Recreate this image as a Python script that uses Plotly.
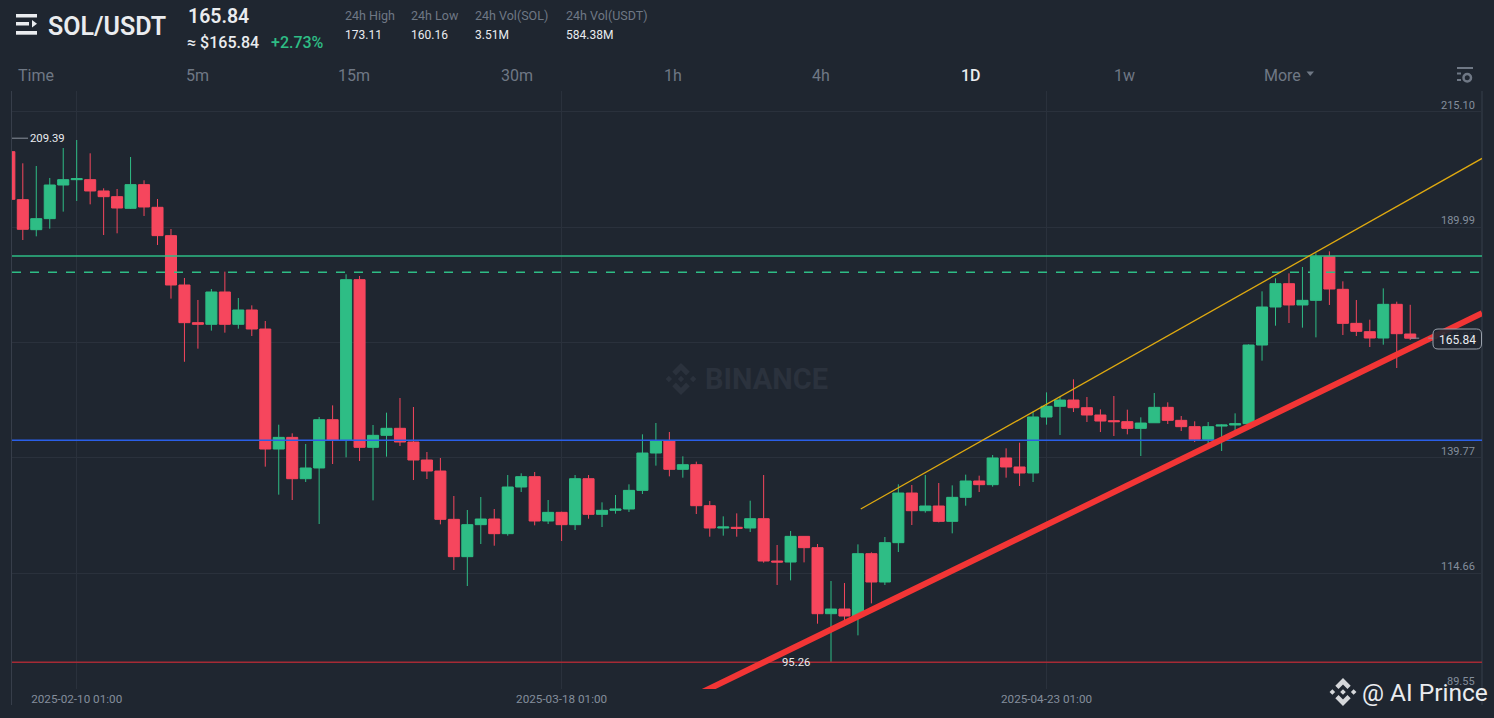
import plotly.graph_objects as go
import pandas as pd

W = 1494
H = 718
FONT = "Roboto"

# daily candles
start_day = "2025-02-05"
opens = [206.46, 196.01, 189.47, 191.87, 199.20, 200.36, 200.36, 197.90, 196.66, 194.12,
         199.28, 194.34, 188.17, 177.42, 169.22, 168.86, 175.90, 168.86, 171.98, 167.84,
         141.70, 144.24, 135.24, 137.57, 148.09, 143.59, 178.58, 142.07, 144.68, 146.21,
         143.23, 139.31, 136.91, 126.39, 118.26, 125.23, 126.46, 123.27, 133.43, 135.68,
         126.02, 127.91, 125.23, 135.24, 127.48, 128.35, 128.64, 132.70, 140.83, 143.45,
         137.28, 138.29, 129.36, 124.50, 124.65, 124.50, 126.53, 117.31, 117.09, 122.68,
         120.22, 105.84, 106.86, 105.33, 118.91, 112.74, 121.31, 132.12, 128.27, 129.29,
         125.95, 131.18, 134.74, 133.94, 139.75, 137.79, 136.48, 148.67, 151.00, 152.37,
         150.70, 149.11, 147.87, 147.66, 146.20, 147.42, 150.78, 147.95, 146.57, 143.81,
         146.70, 146.93, 147.22, 164.35, 172.63, 177.71, 173.07, 174.08, 183.59, 176.48,
         169.07, 167.26, 165.88, 173.21, 166.75]
closes = [196.08, 189.55, 191.87, 199.20, 200.36, 200.58, 197.90, 196.66, 194.19, 199.28,
          194.41, 188.17, 177.42, 169.22, 168.86, 175.90, 168.86, 171.98, 167.84, 141.70,
          144.24, 135.24, 137.57, 148.09, 143.59, 178.58, 142.07, 144.68, 146.21, 143.23,
          139.31, 136.91, 126.39, 118.26, 125.23, 126.46, 123.27, 133.43, 135.68, 126.02,
          127.91, 125.23, 135.24, 127.48, 128.35, 128.64, 132.70, 140.83, 143.45, 137.28,
          138.29, 129.36, 124.50, 124.72, 124.43, 126.53, 117.31, 117.09, 122.68, 120.22,
          105.84, 106.86, 105.33, 118.91, 112.74, 121.31, 132.12, 128.27, 129.29, 125.95,
          131.18, 134.74, 133.94, 139.75, 137.79, 136.48, 148.68, 151.00, 152.37, 150.70,
          149.11, 147.80, 147.66, 146.20, 147.36, 150.78, 147.95, 146.57, 143.81, 146.57,
          146.93, 147.22, 164.35, 172.63, 177.71, 173.07, 174.08, 183.59, 176.55, 169.07,
          167.33, 165.88, 173.21, 166.82, 165.84]
highs = [209.39, 203.92, 203.34, 200.73, 207.26, 209.00, 206.10, 198.48, 198.33, 205.30,
         200.22, 196.15, 189.62, 178.95, 174.16, 176.55, 180.33, 174.59, 172.99, 169.58,
         147.00, 145.12, 142.79, 148.67, 151.21, 179.75, 179.38, 146.93, 149.62, 152.81,
         150.85, 141.05, 139.75, 131.47, 128.42, 131.25, 128.64, 136.04, 136.41, 136.70,
         130.60, 128.06, 136.04, 136.04, 130.09, 131.69, 134.01, 144.90, 147.37, 145.41,
         140.11, 138.95, 130.38, 127.04, 127.69, 130.45, 136.04, 120.80, 123.85, 122.68,
         121.02, 112.96, 112.52, 120.94, 119.20, 122.54, 134.01, 133.87, 136.04, 134.30,
         133.79, 136.12, 135.90, 140.40, 141.85, 143.08, 149.84, 154.04, 153.10, 156.88,
         153.03, 150.34, 153.25, 150.27, 148.60, 153.90, 151.87, 148.89, 147.73, 147.58,
         147.07, 149.47, 164.50, 176.04, 178.87, 179.96, 181.34, 184.32, 184.75, 178.22,
         174.15, 169.87, 176.69, 173.79, 173.11]
lows = [195.50, 187.22, 188.02, 189.69, 193.40, 195.72, 194.99, 188.31, 188.68, 193.98,
        192.45, 186.14, 174.45, 160.70, 163.56, 167.48, 167.04, 167.91, 166.32, 137.86,
        131.76, 130.60, 134.52, 125.37, 138.44, 139.89, 139.09, 130.52, 140.04, 142.36,
        134.95, 135.17, 125.30, 115.35, 111.87, 121.01, 120.65, 122.83, 132.34, 125.08,
        125.37, 121.67, 124.06, 126.53, 124.72, 127.62, 127.98, 131.91, 138.08, 135.75,
        135.46, 127.55, 122.61, 122.83, 122.61, 123.63, 116.95, 112.09, 113.10, 117.02,
        103.66, 95.26, 103.74, 101.12, 108.09, 112.09, 119.27, 125.15, 127.84, 125.73,
        123.34, 129.36, 132.34, 133.50, 135.46, 133.65, 134.52, 147.00, 144.75, 149.76,
        147.58, 145.40, 144.53, 144.90, 140.18, 147.42, 147.15, 145.62, 143.23, 142.65,
        141.27, 145.48, 146.93, 160.94, 168.56, 169.14, 168.13, 166.02, 173.07, 166.53,
        166.31, 163.92, 164.43, 159.34, 165.44]

y_ticks = [215.10, 189.99, 164.88, 139.77, 114.66, 89.55]
x_ticks = ["2025-02-10", "2025-03-18", "2025-04-23"]
x_labels = ["2025-02-10 01:00", "2025-03-18 01:00", "2025-04-23 01:00"]

green_level = 183.74
green_dash_level = 180.19
blue_level = 143.60
low_level = 95.26
high_mark = 209.39
last_price = 165.84

yellow_x = ["2025-04-09 05:00", "2025-05-25 08:00"]
yellow_y = [128.64, 205.0]
# starts below the axis so the bottom end gets cut flat
red_x = ["2025-03-25 00:00", "2025-05-25 08:00"]
red_y = [83.85, 171.3]

periods = ["5m", "15m", "30m", "1h", "4h", "1D", "1w"]
period_x = [197, 354, 517, 673, 821, 971, 1124]
stats = [("24h High", "173.11", 344), ("24h Low", "160.16", 410),
         ("24h Vol(SOL)", "3.51M", 474), ("24h Vol(USDT)", "584.38M", 565)]

BG = "#1f2630"
GRID = "#2a313c"
EDGE = "#373e4a"
UP = "#2ebd85"
DOWN = "#f6465d"
MUTED = "#6f7885"
LIGHT = "#eaecef"


def px(x):
    return x / W


def py(y):
    return 1 - y / H


def poly(points):
    return "M" + " L".join(f"{px(a):.5f},{py(b):.5f}" for a, b in points) + " Z"


dates = pd.date_range(start_day, periods=len(opens), freq="D")

fig = go.Figure()
fig.add_trace(go.Candlestick(
    x=dates, open=opens, high=highs, low=lows, close=closes,
    increasing=dict(line=dict(color=UP, width=1), fillcolor=UP),
    decreasing=dict(line=dict(color=DOWN, width=1), fillcolor=DOWN),
    whiskerwidth=0, hoverinfo="skip",
))

shapes = []
annotations = []


def text(x, y, s, size, color, anchor="left", weight=400):
    annotations.append(dict(
        xref="paper", yref="paper", x=px(x), y=py(y), text=s, showarrow=False,
        xanchor=anchor, yanchor="middle", borderpad=0,
        font=dict(family=FONT, size=size, color=color, weight=weight),
    ))


def block(points, color, layer="above"):
    shapes.append(dict(type="path", xref="paper", yref="paper", path=poly(points),
                       fillcolor=color, line=dict(width=0), layer=layer))


def logo(cx, cy, r, color, layer="above"):
    for dx in (-0.76, 0, 0.76):
        s = 0.2
        block([(cx + (dx - s) * r, cy), (cx + dx * r, cy - s * r),
               (cx + (dx + s) * r, cy), (cx + dx * r, cy + s * r)], color, layer)
    for sign in (-1, 1):
        chev = [(0, 1), (0.55, 0.45), (0.32, 0.22), (0, 0.54), (-0.32, 0.22), (-0.55, 0.45)]
        block([(cx + a * r, cy + sign * b * r) for a, b in chev], color, layer)


# level lines
for level, color, dash, lw in [(green_level, UP, "solid", 1.4),
                               (green_dash_level, UP, "dash", 1.4),
                               (blue_level, "#2a5fe8", "solid", 1.5),
                               (low_level, "#a52a35", "solid", 1.6)]:
    shapes.append(dict(type="line", xref="paper", yref="y", x0=px(12), x1=px(1482), y0=level, y1=level,
                       line=dict(color=color, width=lw, dash=dash), layer="above"))

shapes.append(dict(type="line", xref="x", yref="y", x0=yellow_x[0], x1=yellow_x[1],
                   y0=yellow_y[0], y1=yellow_y[1], line=dict(color="#e0aa10", width=1.3), layer="above"))
shapes.append(dict(type="line", xref="x", yref="y", x0=red_x[0], x1=red_x[1],
                   y0=red_y[0], y1=red_y[1], line=dict(color="#f23535", width=6), layer="above"))

# borders left and right of the plot
for bx in (11.5, 1482):
    shapes.append(dict(type="line", xref="paper", yref="paper", x0=px(bx), x1=px(bx), y0=py(91), y1=py(705),
                       line=dict(color=EDGE, width=1), layer="below"))

# high mark leader
shapes.append(dict(type="line", xref="paper", yref="y", x0=px(12), x1=px(28), y0=high_mark, y1=high_mark,
                   line=dict(color="#8a919c", width=1), layer="above"))
text(28.5, 138.5, f"{high_mark:.2f}", 11.3, LIGHT)
text(796, 662.5, f"{low_level:.2f}", 11.3, LIGHT, "center")

# price labels sit on top of the grid lines, the one behind the last price tag only shows faintly
for tick in y_ticks:
    annotations.append(dict(
        xref="paper", yref="y", x=px(1476), y=tick, yanchor="bottom", xanchor="right", showarrow=False, yshift=-1,
        text=f"{tick:.2f}", borderpad=0, font=dict(family=FONT, size=11, color="#848e9c"),
        opacity=0.12 if tick == 164.88 else 1,
    ))

# last price tag
shapes.append(dict(type="line", xref="x", yref="y", x0=dates[-1], x1="2025-05-22 00:00",
                   y0=last_price, y1=last_price, line=dict(color="#8a919c", width=1, dash="dash"), layer="above"))
x0, x1, y0, y1, r = px(1433), px(1481.5), py(349), py(329), 5
rx, ry = r / W, r / H
shapes.append(dict(
    type="path", xref="paper", yref="paper", layer="above",
    path=f"M{x0+rx},{y0} L{x1-rx},{y0} Q{x1},{y0} {x1},{y0+ry} L{x1},{y1-ry} Q{x1},{y1} {x1-rx},{y1} "
         f"L{x0+rx},{y1} Q{x0},{y1} {x0},{y1-ry} L{x0},{y0+ry} Q{x0},{y0} {x0+rx},{y0} Z",
    fillcolor="rgba(31,38,48,0.9)", line=dict(color="#9aa1ac", width=1),
))
text(1457, 340.5, f"{last_price:.2f}", 12, LIGHT, "center")

# header
block([(16, 14), (37, 14), (37, 17.5), (16, 17.5)], LIGHT)
block([(16, 22), (29, 22), (29, 25.5), (16, 25.5)], LIGHT)
block([(16, 31), (37, 31), (37, 34.7), (16, 34.7)], LIGHT)
block([(32, 20), (37, 23.7), (32, 27.5)], LIGHT)
text(46.5, 27, "SOL/USDT", 25, LIGHT, weight=600)
text(187, 16.5, "165.84", 19.5, LIGHT, weight=600)
text(186, 42, "≈ $165.84", 16, LIGHT, weight=500)
text(269.5, 42, "+2.73%", 16, UP, weight=500)
for label, value, sx in stats:
    text(sx, 16, label, 12.5, MUTED)
    text(sx, 35, value, 12, LIGHT)

# interval row
text(17, 75.5, "Time", 16, MUTED)
for name, tx in zip(periods, period_x):
    if name == "1D":
        text(tx, 75.5, name, 16, LIGHT, "center", 500)
    else:
        text(tx, 75.5, name, 16, MUTED, "center")
text(1282, 75.5, "More", 16, MUTED, "center")
block([(1306.5, 71.5), (1314, 71.5), (1310.2, 76)], MUTED)

# settings icon
block([(1457, 67), (1473, 67), (1473, 69), (1457, 69)], MUTED)
block([(1457, 72.5), (1461, 72.5), (1461, 74.5), (1457, 74.5)], MUTED)
block([(1457, 79), (1461, 79), (1461, 81), (1457, 81)], MUTED)
shapes.append(dict(type="circle", xref="paper", yref="paper", x0=px(1463.5), x1=px(1471), y0=py(81.5), y1=py(74),
                   fillcolor=BG, line=dict(color=MUTED, width=2.5), layer="above"))

# watermarks
logo(681, 379, 16, "#2b323d", "below")
text(704, 379, "BINANCE", 29, "#2b323d", weight=700)
logo(1343, 692, 14, "#d5d7da")
text(1361, 692, "@ AI Prince", 24.5, LIGHT)

fig.update_layout(
    width=W, height=H, autosize=False,
    margin=dict(l=0, r=0, t=0, b=0),
    paper_bgcolor=BG, plot_bgcolor=BG,
    showlegend=False, dragmode=False, boxgap=0.18, boxgroupgap=0,
    shapes=shapes, annotations=annotations,
    font=dict(family=FONT),
    xaxis=dict(
        domain=[px(12), px(1482)], range=["2025-02-05 04:44", "2025-05-25 07:55"],
        type="date", rangeslider=dict(visible=False),
        tickvals=x_ticks, ticktext=x_labels, tickfont=dict(size=11.7, color="#848e9c"),
        ticklabelstandoff=1,
        showgrid=True, gridcolor=GRID, gridwidth=1, ticks="", zeroline=False, showline=False,
    ),
    yaxis=dict(
        domain=[py(689), py(91)], range=[89.44, 219.67],
        tickvals=y_ticks, showticklabels=False,
        showgrid=True, gridcolor=GRID, gridwidth=1, ticks="", zeroline=False, showline=False,
    ),
)

fig.write_html("out.html", config=dict(displayModeBar=False),
               post_script="document.body.style.margin='0';document.body.style.overflow='hidden';")
